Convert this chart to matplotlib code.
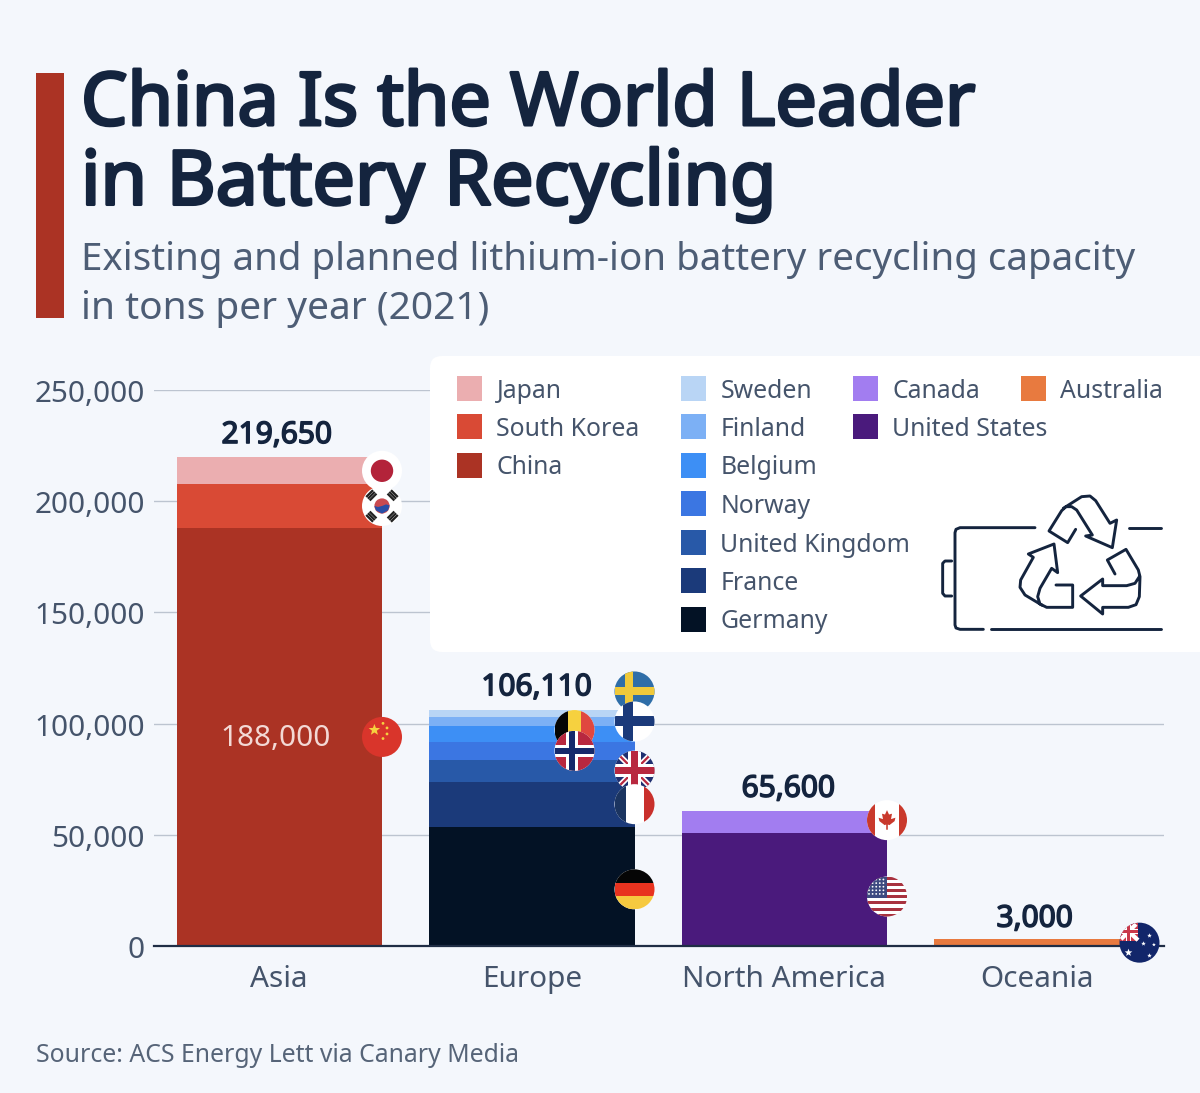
import math
import matplotlib
matplotlib.use('Agg')
import matplotlib.pyplot as plt
import matplotlib.patheffects as pe
from matplotlib.patches import Rectangle, Circle, Polygon, FancyBboxPatch
from matplotlib.transforms import ScaledTranslation

plt.rcParams['font.family'] = ['Noto Sans', 'DejaVu Sans']

BG = '#f4f7fc'
NAVY = '#14243e'
GREY = '#45546b'

regions = ['Asia', 'Europe', 'North America', 'Oceania']
region_totals = ['219,650', '106,110', '65,600', '3,000']
y_ticks = [0, 50000, 100000, 150000, 200000, 250000]
y_labels = ['0', '50,000', '100,000', '150,000', '200,000', '250,000']

# bottom to top in each stack
asia_names = ['China', 'South Korea', 'Japan']
asia_values = [188000, 19700, 11950]
asia_colors = ['#ab3324', '#d94a35', '#ebaeb0']

europe_names = ['Germany', 'France', 'United Kingdom', 'Norway', 'Belgium', 'Finland', 'Sweden']
europe_values = [53650, 20250, 9900, 7900, 7200, 4100, 3110]
europe_colors = ['#031225', '#1b3a7a', '#2859a8', '#3b76e2', '#3d8ff5', '#7cb0f5', '#b9d5f5']

america_names = ['United States', 'Canada']
america_values = [50800, 9800]
america_colors = ['#4a1a7c', '#a27df0']

oceania_names = ['Australia']
oceania_values = [3000]
oceania_colors = ['#e87a3f']

stacks = [(asia_names, asia_values, asia_colors),
          (europe_names, europe_values, europe_colors),
          (america_names, america_values, america_colors),
          (oceania_names, oceania_values, oceania_colors)]

legend_columns = [(457, ['Japan', 'South Korea', 'China']),
                  (681, ['Sweden', 'Finland', 'Belgium', 'Norway', 'United Kingdom', 'France', 'Germany']),
                  (853, ['Canada', 'United States']),
                  (1021, ['Australia'])]

W, H = 1200, 1093
BAR_W = 0.812
BAR_SHIFT = -0.003
fig = plt.figure(figsize=(W / 100, H / 100), dpi=100, facecolor=BG)


def heavy(width, color=NAVY):
    # Noto Sans has no bold face here, so thicken the outline
    return [pe.withStroke(linewidth=width, foreground=color)]


ax = fig.add_axes([154 / W, 1 - 946 / H, 1010 / W, 556 / H], facecolor='none', zorder=1)
ax.set_xlim(-0.5, 3.5)
ax.set_ylim(0, 250000)
for s in ['top', 'left', 'right']:
    ax.spines[s].set_visible(False)
ax.spines['bottom'].set_color('#1f2d45')
ax.spines['bottom'].set_linewidth(1.6)
ax.spines['bottom'].set_zorder(5)
ax.set_yticks(y_ticks)
ax.set_yticklabels(y_labels, fontsize=21.4, color=GREY)
ax.set_xticks(range(4))
ax.set_xticklabels(regions, fontsize=21.4, color=GREY)
ax.tick_params(length=0, axis='y', pad=6.4)
ax.tick_params(length=0, axis='x', pad=13.7)
down = ScaledTranslation(0, -1 / 100, fig.dpi_scale_trans)
for lab in ax.get_yticklabels():
    lab.set_transform(lab.get_transform() + down)
left = ScaledTranslation(-1 / 100, 0, fig.dpi_scale_trans)
for lab in ax.get_xticklabels():
    lab.set_transform(lab.get_transform() + left)
ax.grid(axis='y', color='#bcc4d0', lw=1)
ax.set_axisbelow(True)

# label offsets from the top of each bar, in points
label_dx = [-2.5, 2.8, 2.2, -2.2]
label_dy = [15.8, 16, 15.8, 14.5]

colors = {}
for i, (names, values, cols) in enumerate(stacks):
    bottom = 0
    for n, v, c in zip(names, values, cols):
        ax.bar(i + BAR_SHIFT, v, BAR_W, bottom=bottom, color=c, zorder=3)
        colors[n] = c
        bottom += v
    ax.annotate(region_totals[i], (i, bottom), xytext=(label_dx[i], label_dy[i]), textcoords='offset points',
                ha='center', va='center', fontsize=21.5, color=NAVY, zorder=6, path_effects=heavy(1.1))
ax.annotate('188,000', (0, asia_values[0] / 2), xytext=(-3, -1.4), textcoords='offset points',
            ha='center', va='center', fontsize=21.4, color='#f3d9d5', zorder=6)

# overlay in pixel coordinates for panel, icon, flags
ov = fig.add_axes([0, 0, 1, 1], facecolor='none', zorder=2)
ov.set_xlim(0, W)
ov.set_ylim(H, 0)
ov.axis('off')

ov.add_patch(FancyBboxPatch((430, 356), 800, 296, boxstyle='round,pad=0,rounding_size=12',
                            fc='white', ec='none', zorder=1))

# header
ov.add_patch(Rectangle((36, 73), 28, 245, fc='#ab3324', ec='none'))
ov.text(81, 106, 'China Is the World Leader', fontsize=53, color=NAVY, va='center', path_effects=heavy(2.2))
ov.text(81, 185, 'in Battery Recycling', fontsize=54.3, color=NAVY, va='center', path_effects=heavy(2.2))
ov.text(81, 260, 'Existing and planned lithium-ion battery recycling capacity', fontsize=27.7, color='#4d5d75', va='center')
ov.text(81, 309, 'in tons per year (2021)', fontsize=28, color='#4d5d75', va='center')
ov.text(36, 1055, 'Source: ACS Energy Lett via Canary Media', fontsize=17.85, color='#566478', va='center')

# legend
for x0, names in legend_columns:
    for k, n in enumerate(names):
        yc = 388 + k * 38.5
        ov.add_patch(Rectangle((x0, yc - 12.5), 25, 25, fc=colors[n], ec='none', zorder=2))
        ov.text(x0 + 39.5, yc + 3, n, fontsize=17.85, color=GREY, va='center', zorder=2)


def stroke(points):
    xs = [930 + p[0] / 3 for p in points]
    ys = [480 + p[1] / 3 for p in points]
    ov.plot(xs, ys, color=NAVY, lw=2.1, solid_capstyle='round', solid_joinstyle='round', zorder=3)


# battery outline
stroke([(315, 143), (90, 143), (78, 148), (75, 158), (75, 435), (78, 444), (90, 448), (160, 448)])
stroke([(182, 448), (693, 448)])
stroke([(597, 143), (693, 143)])
stroke([(65, 243), (45, 243), (38, 250), (38, 340), (45, 348), (65, 348)])
# recycle arrows
stroke([(437, 148), (413, 188), (357, 153), (395, 92), (408, 80), (425, 80), (440, 90), (487, 165),
        (467, 168), (547, 203), (560, 120), (540, 130), (497, 62), (480, 48), (455, 50), (400, 85)])
stroke([(378, 315), (428, 315), (428, 382), (350, 382), (330, 372), (323, 350), (330, 325), (365, 265),
        (383, 278), (372, 192), (295, 222), (310, 232), (272, 300), (270, 322), (285, 345), (335, 375)])
stroke([(555, 282), (532, 240), (588, 208), (625, 270), (630, 290), (628, 350), (618, 374), (595, 382),
        (518, 382), (518, 402), (452, 348), (518, 297), (518, 317), (590, 317), (615, 310), (628, 290)])


# flags, drawn in a unit square around the centre
def flag(cx, cy, shapes, base='white', r=20):
    clip = Circle((cx, cy), r, transform=ov.transData)
    ov.add_patch(Circle((cx, cy), r, fc=base, ec='none', zorder=4))
    for kind, pts, col in shapes:
        if kind == 'r':
            x0, y0, x1, y1 = pts
            p = Rectangle((cx + x0 * r, cy + y0 * r), (x1 - x0) * r, (y1 - y0) * r, fc=col, ec='none', zorder=4)
        elif kind == 'c':
            x0, y0, rad = pts
            p = Circle((cx + x0 * r, cy + y0 * r), rad * r, fc=col, ec='none', zorder=4)
        else:
            p = Polygon([(cx + a * r, cy + b * r) for a, b in pts], fc=col, ec='none', zorder=4)
        ov.add_patch(p)
        p.set_clip_path(clip)


def star(x, y, s, col='white'):
    pts = []
    for j in range(10):
        rad = s if j % 2 == 0 else s * 0.42
        a = -math.pi / 2 + j * math.pi / 5
        pts.append((x + rad * math.cos(a), y + rad * math.sin(a)))
    return ('p', pts, col)


def trigram(sx, sy):
    # three short black bars in one corner of the Korean flag
    out = []
    for d in (0.72, 0.86, 1.0):
        mx, my = sx * d * 0.62, sy * d * 0.62
        ux, uy = sx * 0.17, -sy * 0.17
        nx, ny = sx * 0.04, sy * 0.04
        out.append(('p', [(mx + ux - nx, my + uy - ny), (mx - ux - nx, my - uy - ny),
                          (mx - ux + nx, my - uy + ny), (mx + ux + nx, my + uy + ny)], '#222222'))
    return out


FLAGS = {
    'Japan': ([('c', (0, 0, 0.56), '#b3233a')], 'white'),
    'South Korea': ([('c', (0, 0, 0.38), '#c94a50'),
                     ('p', [(-0.38, 0), (-0.2, 0.05), (0, 0), (0.2, -0.08), (0.38, -0.03), (0.3, 0.22), (0, 0.38), (-0.3, 0.22)], '#2a4ea6')]
                    + trigram(-1, -1) + trigram(1, -1) + trigram(-1, 1) + trigram(1, 1), 'white'),
    'China': ([star(-0.38, -0.35, 0.3, '#f6d13f'), ('c', (0.05, -0.68, 0.07), '#f6d13f'),
               ('c', (0.25, -0.45, 0.07), '#f6d13f'), ('c', (0.25, -0.15, 0.07), '#f6d13f'), ('c', (0.05, 0.08, 0.07), '#f6d13f')], '#d9352b'),
    'Sweden': ([('r', (-1, -0.2, 1, 0.2), '#f0c93a'), ('r', (-0.5, -1, -0.1, 1), '#f0c93a')], '#2f6ea8'),
    'Finland': ([('r', (-1, -0.25, 1, 0.23), '#1b3a7a'), ('r', (-0.58, -1, -0.08, 1), '#1b3a7a')], 'white'),
    'Belgium': ([('r', (-1, -1, -0.33, 1), '#050505'), ('r', (-0.33, -1, 0.33, 1), '#f6d13f'), ('r', (0.33, -1, 1, 1), '#e0473f')], 'white'),
    'Norway': ([('r', (-1, -1, 1, 1), '#b8283f'), ('r', (-1, -0.3, 1, 0.3), 'white'), ('r', (-0.45, -1, 0.15, 1), 'white'),
                ('r', (-1, -0.14, 1, 0.14), '#15296b'), ('r', (-0.3, -1, 0, 1), '#15296b')], 'white'),
    'United Kingdom': ([('r', (-1, -1, 1, 1), '#1f2f70'),
                        ('p', [(-1, -0.8), (-0.8, -1), (1, 0.8), (0.8, 1)], 'white'),
                        ('p', [(1, -0.8), (0.8, -1), (-1, 0.8), (-0.8, 1)], 'white'),
                        ('p', [(-1, -0.92), (-0.92, -1), (1, 0.92), (0.92, 1)], '#b8283f'),
                        ('p', [(1, -0.92), (0.92, -1), (-1, 0.92), (-0.92, 1)], '#b8283f'),
                        ('r', (-1, -0.34, 1, 0.34), 'white'), ('r', (-0.34, -1, 0.34, 1), 'white'),
                        ('r', (-1, -0.18, 1, 0.18), '#b8283f'), ('r', (-0.18, -1, 0.18, 1), '#b8283f')], 'white'),
    'France': ([('r', (-1, -1, -0.45, 1), '#1b3460'), ('r', (0.45, -1, 1, 1), '#c9302c')], 'white'),
    'Germany': ([('r', (-1, -1, 1, -0.33), '#050505'), ('r', (-1, -0.33, 1, 0.33), '#e8331f'), ('r', (-1, 0.33, 1, 1), '#f6c93f')], 'white'),
    'Canada': ([('r', (-1, -1, -0.6, 1), '#c9392c'), ('r', (0.6, -1, 1, 1), '#c9392c'),
                ('p', [(0, -0.5), (0.1, -0.28), (0.25, -0.32), (0.2, -0.05), (0.42, -0.12), (0.38, 0.05), (0.12, 0.25), (0.04, 0.22), (0.04, 0.48),
                       (-0.04, 0.48), (-0.04, 0.22), (-0.12, 0.25), (-0.38, 0.05), (-0.42, -0.12), (-0.2, -0.05), (-0.25, -0.32), (-0.1, -0.28)], '#c9392c')], 'white'),
    'United States': ([('r', (-1, y, 1, y + 0.154), '#a8323f') for y in (-1, -0.69, -0.38, -0.07, 0.24, 0.55, 0.86)]
                      + [('r', (-1, -1, 0, 0.07), '#3d4a80')]
                      + [('c', (-0.9 + 0.18 * a, -0.85 + 0.18 * b, 0.045), 'white') for a in range(5) for b in range(5)], 'white'),
    'Australia': ([('r', (-1, -1, -0.1, -0.1), '#c9384a'),
                   ('p', [(-1, -0.85), (-0.85, -1), (0, -0.2), (-0.15, -0.05)], 'white'),
                   ('p', [(-0.1, -0.85), (-0.25, -1), (-1, -0.25), (-0.85, -0.1)], 'white'),
                   ('r', (-1, -0.68, -0.1, -0.42), 'white'), ('r', (-0.68, -1, -0.42, -0.1), 'white'),
                   ('r', (-1, -0.62, -0.1, -0.48), '#c9384a'), ('r', (-0.62, -1, -0.48, -0.1), '#c9384a'),
                   star(-0.55, 0.5, 0.2), star(0.5, -0.35, 0.12), star(0.2, 0.05, 0.12), star(0.72, 0.1, 0.1), star(0.5, 0.65, 0.12)], '#12266a'),
}

# flags that do not sit on the middle of their segment at the bar's right edge
nudge = {'Sweden': -22, 'Belgium': -4, 'United States': 7, 'Germany': 3, 'Canada': -2}
inner = {'Belgium': -60, 'Norway': -60}


def to_px(x, y):
    return ov.transData.inverted().transform(ax.transData.transform((x, y)))


# top of each stack first, so lower flags overlap upper ones
for i, (names, values, cols) in enumerate(stacks):
    bottom = sum(values)
    for n, v in zip(names[::-1], values[::-1]):
        bottom -= v
        cx, cy = to_px(i + BAR_SHIFT + BAR_W / 2, bottom + v / 2)
        shapes, base = FLAGS[n]
        flag(cx + inner.get(n, 0), cy + nudge.get(n, 0), shapes, base)

fig.savefig('out.png', dpi=100, facecolor=BG)
